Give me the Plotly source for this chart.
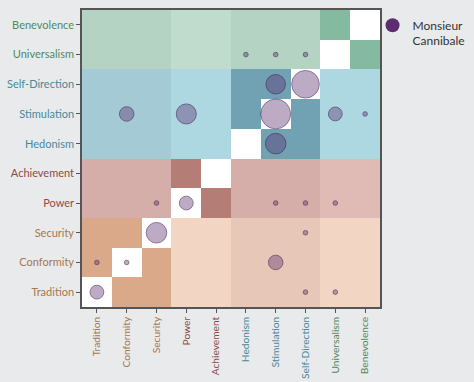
import plotly.graph_objects as go

# ---- data ----
values = ["Tradition", "Conformity", "Security", "Power", "Achievement",
          "Hedonism", "Stimulation", "Self-Direction", "Universalism", "Benevolence"]
value_group = [0, 0, 0, 1, 1, 2, 2, 2, 3, 3]   # 0 conservation, 1 self-enhancement, 2 openness, 3 self-transcendence

bubble_x = ["Tradition", "Tradition", "Conformity", "Security", "Security", "Power",
            "Conformity", "Power", "Hedonism", "Stimulation", "Self-Direction",
            "Stimulation", "Self-Direction", "Stimulation", "Universalism", "Benevolence",
            "Stimulation", "Stimulation", "Self-Direction", "Universalism",
            "Self-Direction", "Stimulation", "Self-Direction", "Universalism"]
bubble_y = ["Tradition", "Conformity", "Conformity", "Security", "Power", "Power",
            "Stimulation", "Stimulation", "Universalism", "Universalism", "Universalism",
            "Self-Direction", "Self-Direction", "Stimulation", "Stimulation", "Stimulation",
            "Hedonism", "Power", "Power", "Power",
            "Security", "Conformity", "Tradition", "Tradition"]
bubble_n = [9, 1, 1, 20, 1, 9,
            10, 19, 1, 1, 1,
            18, 36, 42, 9, 1,
            20, 1, 1, 1,
            1, 10, 1, 1]

series_name = "Monsieur<br>Cannibale"

# ---- styles ----
light = ["#f3d5c4", "#e0bab5", "#add7e1", "#bfdccd"]
band = ["#e7c8b8", "#d5aea9", "#a4cad6", "#b4d3c3"]
own = ["#daa98a", "#b47e76", "#71a2b4", "#84bba0"]
label_col = ["#a8764f", "#8c4c46", "#4a8898", "#4f8a5d"]
bg = "#e9eaec"

palette = []
for g in range(4):
    palette += [light[g], band[g], own[g]]
palette.append("#ffffff")
ncol = len(palette)
cscale = []
for i, c in enumerate(palette):
    cscale.append([i / ncol, c])
    cscale.append([(i + 1) / ncol, c])

n = len(values)
z = []
for r in range(n):
    row = []
    gr = value_group[r]
    for c in range(n):
        gc = value_group[c]
        if r == c:
            code = 12
        elif gr == gc:
            code = gr * 3 + 2
        elif gc in (0, 2):
            code = gr * 3 + 1
        else:
            code = gr * 3
        row.append(code)
    z.append(row)

idx = {v: i for i, v in enumerate(values)}
bx = [idx[v] for v in bubble_x]
by = [idx[v] for v in bubble_y]
bsize = [4.6 * (v ** 0.5) for v in bubble_n]

ticktext = [f'<span style="color:{label_col[g]}">{v}</span>' for v, g in zip(values, value_group)]

fig = go.Figure()
fig.add_trace(go.Heatmap(
    z=z, x=list(range(n)), y=list(range(n)),
    colorscale=cscale, zmin=-0.5, zmax=ncol - 0.5,
    showscale=False, hoverinfo="skip"))
fig.add_trace(go.Scatter(
    x=bx, y=by, mode="markers", showlegend=False,
    marker=dict(size=bsize, color="rgba(92,45,111,0.57)",
                line=dict(color="rgba(62,28,78,0.8)", width=1))))
fig.add_trace(go.Scatter(
    x=[None], y=[None], mode="markers", name=series_name,
    marker=dict(size=14, color="#5c2d6f")))

axis_common = dict(range=[-0.5, n - 0.5], tickmode="array", tickvals=list(range(n)),
                   showgrid=False, zeroline=False, showline=True, mirror=True,
                   linecolor="#555555", linewidth=1.5, ticks="outside", ticklen=4,
                   tickcolor="#555555", automargin=False)
fig.update_layout(
    width=474, height=382,
    margin=dict(l=82, r=94, t=10, b=75, autoexpand=False),
    paper_bgcolor=bg, plot_bgcolor=bg,
    font=dict(family="Lato", color="#333333"),
    xaxis=dict(ticktext=ticktext, tickangle=-90,
               tickfont=dict(family="Lato", size=10.2), **axis_common),
    yaxis=dict(ticktext=ticktext, tickfont=dict(family="Lato", size=11), **axis_common),
    xaxis2=dict(overlaying="x", side="top", range=[-0.5, n - 0.5], tickmode="array",
                tickvals=list(range(n)), showticklabels=False, ticks="inside", ticklen=4,
                tickcolor="#555555", showgrid=False, zeroline=False, anchor="y"),
    yaxis2=dict(overlaying="y", side="right", range=[-0.5, n - 0.5], tickmode="array",
                tickvals=list(range(n)), showticklabels=False, ticks="inside", ticklen=4,
                tickcolor="#555555", showgrid=False, zeroline=False, anchor="x"),
    legend=dict(x=0.975, y=0.997, xanchor="left", yanchor="top", bgcolor="rgba(0,0,0,0)",
                font=dict(family="Lato", size=12, color="#333333"), valign="top",
                itemsizing="trace"),
    showlegend=True,
)
fig.write_html("out.html", config={"displayModeBar": False},
               post_script="document.body.style.margin='0';"
                           "document.body.style.background='" + bg + "';")
